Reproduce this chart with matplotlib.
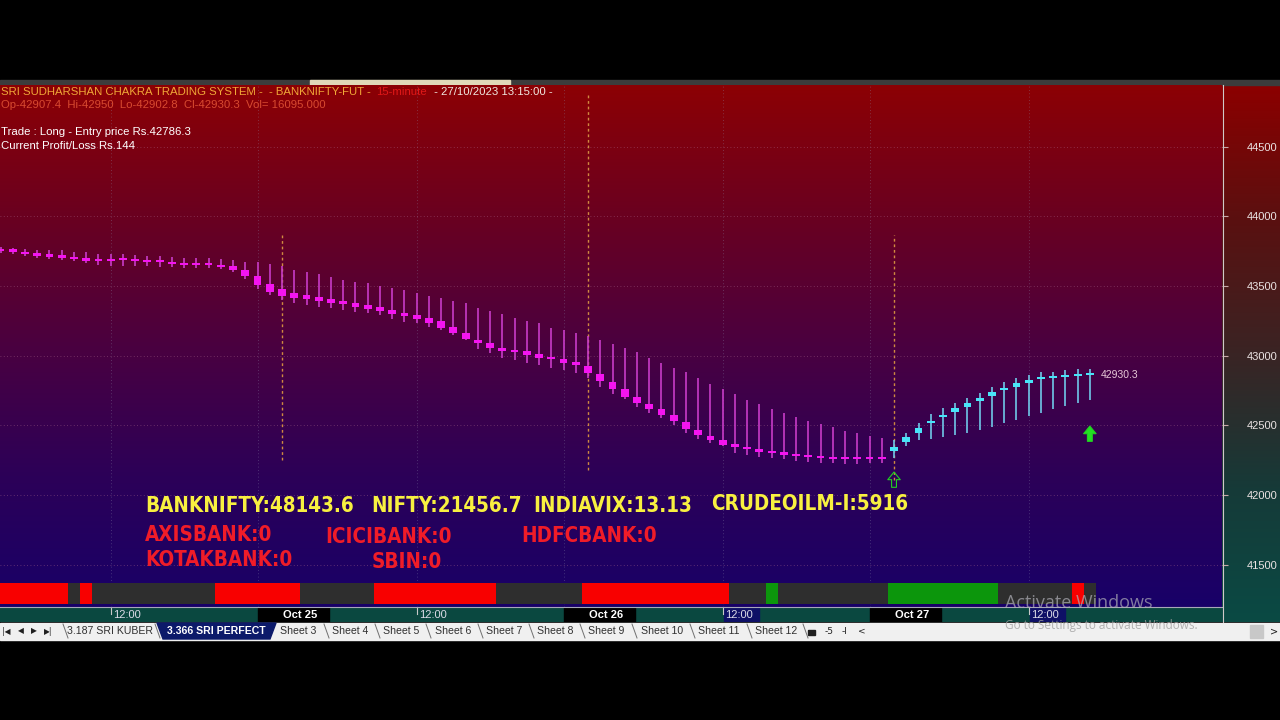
import numpy as np
import matplotlib.pyplot as plt
from matplotlib import font_manager
from matplotlib.colors import LinearSegmentedColormap
from matplotlib.patches import Rectangle, Polygon, Arc

W, H = 1280, 720

# 15-minute bars, Oct 24 09:45 .. Oct 27 13:15 (smoothed candles as drawn on screen)
opens = [43766, 43764, 43747, 43735, 43728, 43723, 43709, 43699, 43685, 43685,
         43689, 43685, 43680, 43678, 43666, 43659, 43659, 43659, 43651, 43644,
         43616, 43572, 43515, 43479, 43450, 43436, 43422, 43407, 43393, 43379,
         43364, 43350, 43328, 43305, 43290, 43269, 43247, 43204, 43165, 43113,
         43094, 43058, 43041, 43034, 43012, 42993, 42976, 42957, 42926, 42872,
         42808, 42758, 42704, 42653, 42614, 42574, 42524, 42467, 42424, 42395,
         42366, 42345, 42330, 42316, 42309, 42294, 42287, 42280, 42273, 42266,
         42269, 42269, 42269, 42316, 42381, 42445, 42517, 42560, 42596, 42632,
         42675, 42711, 42754, 42775, 42804, 42833, 42840, 42847, 42854, 42862]
highs = [43781, 43773, 43766, 43759, 43759, 43759, 43747, 43747, 43728, 43728,
         43728, 43723, 43718, 43714, 43709, 43704, 43699, 43699, 43694, 43687,
         43673, 43673, 43659, 43644, 43616, 43601, 43587, 43565, 43544, 43529,
         43522, 43501, 43486, 43472, 43450, 43429, 43415, 43393, 43379, 43343,
         43321, 43300, 43271, 43249, 43235, 43199, 43185, 43163, 43142, 43113,
         43084, 43055, 43027, 42984, 42948, 42912, 42883, 42840, 42797, 42761,
         42725, 42682, 42653, 42617, 42589, 42560, 42531, 42510, 42488, 42460,
         42445, 42424, 42409, 42395, 42445, 42517, 42582, 42625, 42661, 42696,
         42732, 42775, 42811, 42840, 42862, 42883, 42883, 42898, 42905, 42905]
lows = [43738, 43730, 43716, 43702, 43694, 43687, 43680, 43666, 43651, 43646,
        43646, 43646, 43646, 43639, 43635, 43630, 43628, 43628, 43623, 43601,
        43551, 43479, 43436, 43400, 43379, 43364, 43350, 43343, 43328, 43314,
        43307, 43292, 43264, 43242, 43235, 43206, 43185, 43149, 43113, 43048,
        43020, 42984, 42969, 42948, 42933, 42912, 42897, 42876, 42840, 42775,
        42725, 42689, 42632, 42589, 42553, 42503, 42445, 42402, 42373, 42352,
        42302, 42287, 42273, 42266, 42258, 42244, 42237, 42230, 42230, 42223,
        42223, 42230, 42230, 42266, 42352, 42395, 42402, 42416, 42431, 42445,
        42467, 42488, 42517, 42539, 42567, 42589, 42617, 42639, 42661, 42682]
closes = [43752, 43747, 43730, 43718, 43709, 43704, 43694, 43682, 43682, 43682,
          43685, 43682, 43671, 43673, 43656, 43654, 43654, 43649, 43639, 43616,
          43572, 43508, 43458, 43429, 43415, 43407, 43393, 43379, 43371, 43350,
          43335, 43321, 43300, 43287, 43264, 43237, 43201, 43161, 43118, 43089,
          43058, 43034, 43029, 43007, 42986, 42974, 42950, 42931, 42878, 42819,
          42761, 42704, 42661, 42617, 42574, 42531, 42474, 42431, 42395, 42359,
          42345, 42330, 42309, 42302, 42287, 42280, 42273, 42266, 42258, 42258,
          42258, 42258, 42258, 42345, 42416, 42481, 42531, 42574, 42625, 42661,
          42696, 42740, 42768, 42804, 42826, 42840, 42847, 42862, 42865, 42872]

# trend ribbon per bar: R = sell, G = buy, N = neutral
ribbon = ('RRRRRR' 'N' 'R' 'NNNNNNNNNN' 'RRRRRRR' 'NNNNNN' 'RRRRRRRRRR' 'NNNNNNN'
          'RRRRRRRRRRRR' 'NNN' 'G' 'NNNNNNNNN' 'GGGGGGGGG' 'NNNNNN' 'R' 'N')

price_ticks = [41500, 42000, 42500, 43000, 43500, 44000, 44500]
time_tick_idx = [9, 34, 59, 84]
time_tick_lbl = ['12:00', '12:00', '12:00', '12:00']
day_tick_idx = [23, 48, 73]
day_tick_lbl = ['Oct 25', 'Oct 26', 'Oct 27']
grid_idx = [9, 21, 34, 46, 59, 71, 84]

# session markers (dashed) : bar, top price, bottom price
sess_idx = [23, 48, 73]
sess_top = [43870, 44870, 43870]
sess_bot = [42250, 42180, 42110]

# buy arrows
sig_idx = [73, 89]
sig_tip = [42165, 42495]
sig_filled = [False, True]
last_label = '42930.3'

names = {f.name for f in font_manager.fontManager.ttflist}
SANS = 'Liberation Sans' if 'Liberation Sans' in names else 'DejaVu Sans'

fig = plt.figure(figsize=(12.8, 7.2), dpi=100, facecolor='black')


def px_rect(x0, y0, x1, y1):
    return [x0 / W, 1 - y1 / H, (x1 - x0) / W, (y1 - y0) / H]


def txt(x, y, s, **kw):
    kw.setdefault('va', 'center')
    kw.setdefault('ha', 'left')
    return fig.text(x / W, 1 - y / H, s, **kw)


grad = np.linspace(0, 1, 256).reshape(-1, 1)

# window background
bg = fig.add_axes([0, 0, 1, 1], zorder=0)
bg.add_patch(Rectangle((0, 80), W, 5, color='#3c3c3c'))
bg.add_patch(Rectangle((310, 80), 200, 5, color='#e0d8b8'))
cm_right = LinearSegmentedColormap.from_list('rp', ['#8c0000', '#5a1010', '#3a2424', '#163a38', '#0a4a44'])
bg.imshow(grad, cmap=cm_right, extent=[1222, 1280, 622, 85], aspect='auto')
bg.add_patch(Rectangle((0, 623), W, 17, color='#f0f0f0'))
bg.set_xlim(0, W)
bg.set_ylim(H, 0)
bg.axis('off')

# main price pane
n = len(opens)
x = np.arange(n)
o, h, l, c = (np.array(v, dtype=float) for v in (opens, highs, lows, closes))
up = c > o
xl = (-0.5 / 12.24, (1222 - 0.5) / 12.24)
yl = (42000 - (607 - 495) * 7.18, 42000 + (495 - 85) * 7.18)

ax = fig.add_axes(px_rect(0, 85, 1222, 607), zorder=2)
cm_main = LinearSegmentedColormap.from_list('mp', ['#8c0004', '#6a0020', '#4a0040', '#2c0058', '#180068'])
ax.imshow(grad, cmap=cm_main, extent=[0, 1, 0, 1], transform=ax.transAxes, aspect='auto', zorder=0)

for v in grid_idx:
    ax.axvline(v, color='#9090b0', ls=(0, (1, 3)), lw=0.6, alpha=0.45, zorder=1)
for i, t, b in zip(sess_idx, sess_top, sess_bot):
    ax.vlines(i, b, t, colors='#d08a40', linestyles=(0, (2, 2)), lw=1.0, zorder=1)

ax.vlines(x, l, h, colors=np.where(up, '#70c8e8', '#c83cc8'), lw=1.2, zorder=3)
ax.bar(x, np.maximum(np.abs(c - o), 14), bottom=np.minimum(o, c), width=0.64,
       color=np.where(up, '#48e4f8', '#f414f0'), linewidth=0, zorder=4)

for i, p, f in zip(sig_idx, sig_tip, sig_filled):
    ax.annotate('', xy=(i, p), xytext=(0, -11), textcoords='offset points',
                arrowprops=dict(arrowstyle='simple,head_length=0.55,head_width=0.9,tail_width=0.35',
                                fc='#22e022' if f else 'none', ec='#22d022', lw=0.8,
                                shrinkA=0, shrinkB=0), zorder=5)

ax.annotate(last_label, xy=(x[-1], c[-1]), xytext=(8, -1), textcoords='offset points',
            color='#e8c8d8', fontsize=7.5, family=SANS, va='center', zorder=5)

ax.set_xlim(xl)
ax.set_ylim(yl)
ax.set_xticks([])
ax.set_yticks(price_ticks)
ax.yaxis.tick_right()
ax.tick_params(axis='y', colors='#c8a8a8', labelcolor='#ece4e4', labelsize=8, length=4, width=0.8, pad=14)
for lab in ax.get_yticklabels():
    lab.set_family(SANS)
ax.grid(axis='y', color='#b07090', ls=(0, (1, 3)), lw=0.6, alpha=0.55)
for s in ax.spines.values():
    s.set_visible(False)

# trend ribbon
rb = fig.add_axes(px_rect(0, 583, 1222, 604), zorder=3)
rb.patch.set_alpha(0)
rcol = {'R': '#f80000', 'G': '#0c960c', 'N': '#2e2e2e'}
rb.bar(x, 1, width=1.0, color=[rcol[s] for s in ribbon], linewidth=0)
rb.set_xlim(xl)
rb.set_ylim(0, 1)
rb.axis('off')

# date axis strip
dx = fig.add_axes(px_rect(0, 607, 1222, 622), zorder=3)
dx.set_facecolor('#0a4840')
for i, lb in zip(day_tick_idx, day_tick_lbl):
    dx.add_patch(Rectangle((i - 2.0, 0), 5.8, 1, color='black'))
    dx.text(i + 0.1, 0.45, lb, color='white', weight='bold', fontsize=8, family=SANS, va='center')
for k, (i, lb) in enumerate(zip(time_tick_idx, time_tick_lbl)):
    if k >= 2:
        dx.add_patch(Rectangle((i + 0.1, 0.05), 2.9, 0.9, color='#0e1066'))
    dx.plot([i, i], [0.55, 1], color='#c8c8c8', lw=0.8)
    dx.text(i + 0.2, 0.45, lb, color='#dcdce8', fontsize=8, family=SANS, va='center')
dx.set_xlim(xl)
dx.set_ylim(0, 1)
dx.set_xticks([])
dx.set_yticks([])
for s in dx.spines.values():
    s.set_visible(False)

# foreground chrome
fg = fig.add_axes([0, 0, 1, 1], zorder=4)
fg.patch.set_alpha(0)
fg.plot([0, 1222], [606.5, 606.5], color='#a8a8b8', lw=0.8)
fg.plot([1222.5, 1222.5], [85, 622], color='#d0c8c8', lw=0.8)
fg.add_patch(Polygon([(157, 623), (276, 623), (270, 639), (163, 639)], closed=True, color='#0c1a6a'))
for sx in [63, 155, 324, 375, 426, 478, 529, 580, 632, 690, 747, 803]:
    fg.plot([sx, sx + 5], [624, 638], color='#707070', lw=0.7)
fg.add_patch(Rectangle((1250, 625), 13, 13, color='#c8c8c8'))
# padlock icon
fg.add_patch(Rectangle((808, 630), 7, 5, color='#202020'))
fg.add_patch(Arc((811.5, 630), 5, 6, theta1=0, theta2=180, color='#202020', lw=1.0))
fg.set_xlim(0, W)
fg.set_ylim(H, 0)
fg.axis('off')

tabs = [('3.187 SRI KUBER', 110), ('Sheet 3', 298), ('Sheet 4', 350), ('Sheet 5', 401),
        ('Sheet 6', 453), ('Sheet 7', 504), ('Sheet 8', 555), ('Sheet 9', 606),
        ('Sheet 10', 662), ('Sheet 11', 719), ('Sheet 12', 776)]
for lb, cx in tabs:
    txt(cx, 631, lb, ha='center', color='#303030', fontsize=7.6, family=SANS, zorder=6)
txt(216, 631, '3.366 SRI PERFECT', ha='center', color='white', weight='bold', fontsize=7.6,
    family=SANS, zorder=6)
for s, px in [('|◀', 2), ('◀', 18), ('▶', 31), ('▶|', 44)]:
    txt(px, 631, s, color='#202020', fontsize=5.5, family='DejaVu Sans', zorder=6)
for s, px in [('-5', 825), ('-I', 842), ('<', 858)]:
    txt(px, 631, s, color='#202020', fontsize=6.5, family='DejaVu Sans', zorder=6)
txt(1270, 631, '>', color='#202020', fontsize=7, family='DejaVu Sans', zorder=6)

# header text
hf = dict(fontsize=8.2, family=SANS, zorder=6)
txt(1, 92, 'SRI SUDHARSHAN CHAKRA TRADING SYSTEM -  - BANKNIFTY-FUT - ', color='#f0a838', **hf)
txt(376, 92, '15-minute', color='#e01818', **hf)
txt(431, 92, ' - 27/10/2023 13:15:00 -', color='#f0e8e0', **hf)
txt(1, 105, 'Op-42907.4  Hi-42950  Lo-42902.8  Cl-42930.3  Vol= 16095.000', color='#d84a30', **hf)
txt(1, 132, 'Trade : Long - Entry price Rs.42786.3', color='white', **hf)
txt(1, 146, 'Current Profit/Loss Rs.144', color='white', **hf)

# index / stock readouts
bf = dict(family='DejaVu Sans', weight='bold', fontstretch='condensed', zorder=6)
for s, px, py in [('BANKNIFTY:48143.6', 145, 506), ('NIFTY:21456.7', 371, 506),
                  ('INDIAVIX:13.13', 533, 506), ('CRUDEOILM-I:5916', 711, 504)]:
    txt(px, py, s, color='#f8f040', fontsize=14.8, **bf)
for s, px, py in [('AXISBANK:0', 145, 535), ('ICICIBANK:0', 325, 537), ('HDFCBANK:0', 521, 536),
                  ('KOTAKBANK:0', 145, 560), ('SBIN:0', 372, 562)]:
    txt(px, py, s, color='#f01c28', fontsize=14.8, **bf)

# watermark
txt(1005, 603, 'Activate Windows', color='#b0b0b8', alpha=0.7, fontsize=13, family='Open Sans', zorder=7)
txt(1005, 625, 'Go to Settings to activate Windows.', color='#a0a0a0', alpha=0.8, fontsize=8.5,
    family='Open Sans', zorder=7)

fig.savefig('out.png', dpi=100, facecolor='black')
